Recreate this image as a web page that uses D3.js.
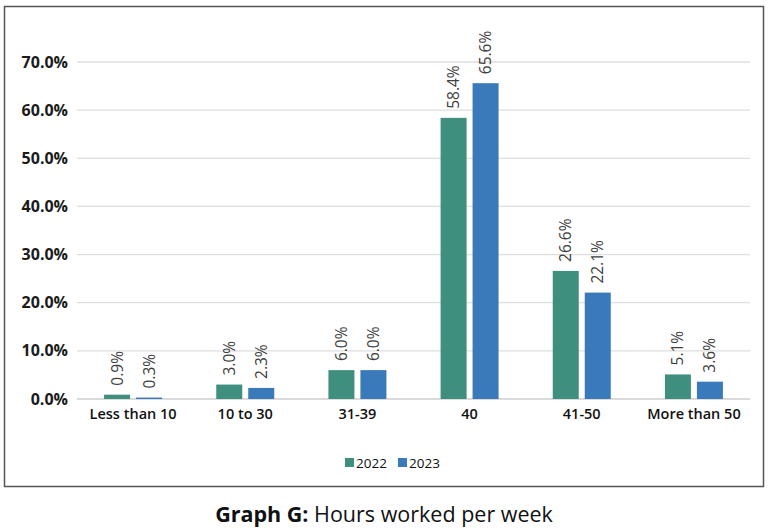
<!DOCTYPE html>
<html>
<head>
<meta charset="utf-8">
<script src="https://cdn.jsdelivr.net/npm/d3@7"></script>
<style>
  body { margin: 0; background: #fff; }
</style>
</head>
<body>
<div id="chart"></div>
<script>
const categories = ["Less than 10", "10 to 30", "31-39", "40", "41-50", "More than 50"];
const years = ["2022", "2023"];
const values2022 = [0.9, 3.0, 6.0, 58.4, 26.6, 5.1];
const values2023 = [0.3, 2.3, 6.0, 65.6, 22.1, 3.6];
const yTicks = [0, 10, 20, 30, 40, 50, 60, 70];
const colors = ["#3f8f7f", "#3a7aba"];

const width = 768, height = 531;

const svg = d3.select("#chart")
    .append("svg")
    .attr("width", width)
    .attr("height", height);

// outer frame
svg.append("rect")
    .attr("x", 4.5).attr("y", 6.5)
    .attr("width", 759).attr("height", 480)
    .attr("fill", "none")
    .attr("stroke", "#555")
    .attr("stroke-width", 1.5);

const plot = { left: 77, right: 750, top: 62, bottom: 399 };

const x = d3.scaleBand()
    .domain(categories)
    .range([plot.left, plot.right]);

const xInner = d3.scaleBand()
    .domain(years)
    .range([x.bandwidth() / 2 - 29, x.bandwidth() / 2 + 29])
    .paddingInner(0.1875);

const y = d3.scaleLinear()
    .domain([0, 70])
    .range([plot.bottom, plot.top]);

// gridlines
svg.append("g")
    .selectAll("line")
    .data(yTicks)
    .join("line")
    .attr("x1", plot.left).attr("x2", plot.right)
    .attr("y1", d => y(d)).attr("y2", d => y(d))
    .attr("stroke", d => d === 0 ? "#cfcfcf" : "#dedede")
    .attr("stroke-width", 1.3);

// y axis
svg.append("g")
    .attr("transform", `translate(${plot.left},0)`)
    .call(d3.axisLeft(y).tickValues(yTicks).tickFormat(d => d.toFixed(1) + "%").tickSize(0).tickPadding(9))
    .call(g => g.select(".domain").remove())
    .selectAll("text")
    .attr("font-family", "'Open Sans', sans-serif")
    .attr("font-weight", "bold")
    .attr("font-size", "16px")
    .attr("fill", "#1a1a1a");

// x axis
svg.append("g")
    .attr("transform", `translate(0,${plot.bottom})`)
    .call(d3.axisBottom(x).tickSize(0).tickPadding(10))
    .call(g => g.select(".domain").remove())
    .selectAll("text")
    .attr("font-family", "'Open Sans', sans-serif")
    .attr("font-weight", "600")
    .attr("font-size", "14.5px")
    .attr("fill", "#111");

const rows = categories.map((c, i) => ({
    cat: c,
    vals: [{ year: "2022", v: values2022[i] }, { year: "2023", v: values2023[i] }]
}));

const groups = svg.append("g")
    .selectAll("g")
    .data(rows)
    .join("g")
    .attr("transform", d => `translate(${x(d.cat)},0)`);

groups.selectAll("rect")
    .data(d => d.vals)
    .join("rect")
    .attr("x", d => xInner(d.year))
    .attr("width", xInner.bandwidth())
    .attr("y", d => y(d.v))
    .attr("height", d => y(0) - y(d.v))
    .attr("fill", (d, i) => colors[i]);

groups.selectAll("text")
    .data(d => d.vals)
    .join("text")
    .attr("transform", d => `translate(${xInner(d.year) + xInner.bandwidth() / 2 + 5.5},${y(d.v) - 9}) rotate(-90)`)
    .attr("font-family", "'Open Sans', sans-serif")
    .attr("font-size", "15.5px")
    .attr("fill", "#404040")
    .text(d => d.v.toFixed(1) + "%");

// legend
const legend = svg.append("g").attr("transform", "translate(345,463)");
years.forEach((yr, i) => {
    const g = legend.append("g").attr("transform", `translate(${i * 53},0)`);
    g.append("rect")
        .attr("x", 0).attr("y", -5)
        .attr("width", 9).attr("height", 9)
        .attr("fill", colors[i]);
    g.append("text")
        .attr("x", 11).attr("y", 5)
        .attr("font-family", "'Open Sans', sans-serif")
        .attr("font-size", "13.5px")
        .attr("fill", "#111")
        .text(yr);
});

// caption
const caption = svg.append("text")
    .attr("x", width / 2)
    .attr("y", 522)
    .attr("text-anchor", "middle")
    .attr("font-family", "'Open Sans', sans-serif")
    .attr("font-size", "21.5px")
    .attr("fill", "#111");
caption.append("tspan").attr("font-weight", "bold").text("Graph G: ");
caption.append("tspan").text("Hours worked per week");
</script>
</body>
</html>
